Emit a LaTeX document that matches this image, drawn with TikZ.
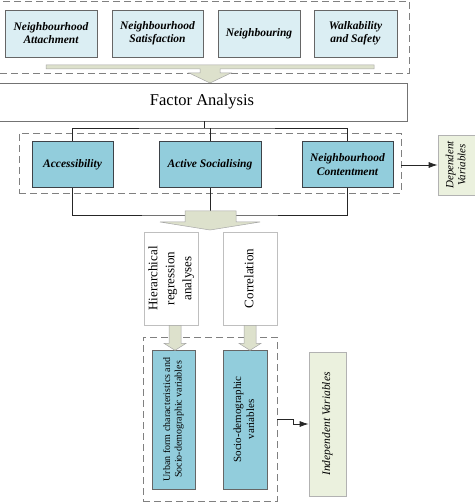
\documentclass[tikz,border=0pt]{standalone}
\usepackage{fontspec}
\setmainfont{Liberation Serif}
\usetikzlibrary{positioning,arrows.meta}
\definecolor{topblue}{HTML}{DBEEF3}
\definecolor{midblue}{HTML}{92CDDC}
\definecolor{varbox}{HTML}{EBF1DE}
\definecolor{fatfill}{HTML}{DDE1CC}
\newcommand{\vtext}[1]{\rotatebox{90}{\begin{tabular}{@{}c@{}}#1\end{tabular}}}

\begin{document}
\begin{tikzpicture}[x=1pt,y=-1pt,>={Latex[length=9pt,width=6pt]},
    topbox/.style={draw=black!60,fill=topblue,line width=0.7pt,align=center,inner sep=0pt,
      font=\fontsize{11.5}{13}\selectfont\bfseries\itshape},
    midbox/.style={draw=black!70!cyan!60!black,fill=midblue,line width=0.8pt,align=center,inner sep=0pt,
      font=\fontsize{11.5}{14}\selectfont\bfseries\itshape},
    vbox/.style={draw=black!60,fill=midblue,line width=0.7pt,inner sep=0pt},
    greenbox/.style={draw=black!30,fill=varbox,line width=0.7pt,inner sep=0pt},
    whitebox/.style={draw=black!25,fill=white,line width=0.7pt,inner sep=0pt,
      font=\fontsize{13}{17}\selectfont},
    frame/.style={draw=black!50,dash pattern=on 7pt off 4pt,line width=0.9pt,inner sep=0pt},
    wire/.style={draw=black!85,line width=0.8pt},
    fatarrow/.style={fill=fatfill,draw=black!35,line width=0.5pt}]
  \useasboundingbox (0,0) rectangle (474,502);

  % measures
  \node[topbox,minimum width=92,minimum height=47] (attach) at (51,33.5) {Neighbourhood\\Attachment};
  \node[topbox,minimum width=91,minimum height=47] (satisf) at (157.5,33.5) {Neighbourhood\\Satisfaction};
  \node[topbox,minimum width=82,minimum height=47] (neighb) at (259,33.5) {Neighbouring};
  \node[topbox,minimum width=83,minimum height=47] (walk) at (355.5,33.5) {Walkability\\and Safety};
  \draw[frame] (-5,1) rectangle (409,73);
  \draw[fatarrow] (46,65) -- (374,65) -- (374,69) -- (220,69) -- (220,73) -- (231,73)
    -- (210,83) -- (189,73) -- (200,73) -- (200,69) -- (46,69) -- cycle;

  \node[draw=black!55,line width=0.7pt,minimum width=410,minimum height=38,
    font=\fontsize{16.5}{18}\selectfont] (factor) at (202,102) {Factor Analysis};

  % factors
  \node[midbox,minimum width=81,minimum height=46] (access) at (72.5,164.5) {Accessibility};
  \node[midbox,minimum width=102,minimum height=46] (social) at (210,164.5) {Active Socialising};
  \node[midbox,minimum width=91,minimum height=46] (content) at (347.5,164.5) {Neighbourhood\\Contentment};
  \node[frame,minimum width=382,minimum height=60] (midframe) at (210,163) {};

  \coordinate (upbus) at (204,128);
  \draw[wire] (upbus |- factor.south) -- (upbus);
  \draw[wire] (access.north) |- (upbus) -| (content.north);
  \draw[wire] (social.north) -- (social.north |- upbus);
  \coordinate (lowbus) at (210,215);
  \draw[wire] (access.south) |- (lowbus) -| (content.south);
  \draw[wire] (social.south) -- (lowbus);
  \draw[fatarrow] (185,211) -- (236,211) -- (236,222) -- (260,222) -- (210,230)
    -- (160,222) -- (185,222) -- cycle;

  \node[greenbox,minimum width=38,minimum height=60,
    font=\fontsize{11}{12}\selectfont\itshape] (dep) at (457,165) {\vtext{Dependent\\Variables}};
  \draw[wire,->] (midframe.east |- dep.west) -- (dep.west);

  % analyses
  \node[whitebox,minimum width=54,minimum height=93] (hier) at (171,278.5) {\vtext{Hierarchical\\regression\\analyses}};
  \node[whitebox,minimum width=54,minimum height=93] (corr) at (250,278.5) {\vtext{Correlation}};

  \node[vbox,minimum width=43,minimum height=139,font=\fontsize{10}{11.5}\selectfont] (urban)
    at (173.5,419.5) {\vtext{Urban form characteristics and\\Socio-demographic variables}};
  \node[vbox,minimum width=44,minimum height=139,font=\fontsize{11}{13}\selectfont] (socio)
    at (245,419.5) {\vtext{Socio-demographic\\variables}};
  \node[frame,minimum width=134,minimum height=164] (botframe) at (210,419) {};

  \draw[fatarrow] ([xshift=-2pt]hier.south) -- ++(0,18) -- ++(-5,0) -- ++(11,7) -- ++(11,-7)
    -- ++(-5,0) -- ++(0,-18) -- cycle;
  \draw[fatarrow] ([xshift=-6pt]corr.south) -- ++(0,18) -- ++(-5,0) -- ++(11,7) -- ++(11,-7)
    -- ++(-5,0) -- ++(0,-18) -- cycle;

  \node[greenbox,minimum width=37,minimum height=144,
    font=\fontsize{11.5}{13}\selectfont\itshape] (indep) at (327.5,424) {\vtext{Independent Variables}};
  \draw[wire,->] (botframe.east) -- ++(16,0) |- (indep.west);
\end{tikzpicture}
\end{document}
